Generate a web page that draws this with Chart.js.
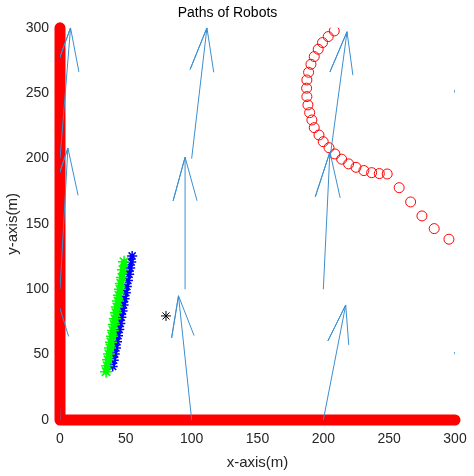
<!DOCTYPE html>
<html>
<head>
<meta charset="utf-8">
<script src="https://cdn.jsdelivr.net/npm/chart.js@4/dist/chart.umd.min.js"></script>
<style>
  body { margin: 0; background: #fff; }
  #wrap { width: 474px; height: 476px; }
</style>
</head>
<body>
<div id="wrap"><canvas id="robots"></canvas></div>
<script>
const xTicks = [0, 50, 100, 150, 200, 250, 300];
const yTicks = [0, 50, 100, 150, 200, 250, 300];

// red boundary robot path (along axes)
const borderX = [300, 0, 0];
const borderY = [0, 0, 300];

// red circle robot
const circleX = [208.3, 203.7, 199.4, 196.1, 193.1, 190.6, 188.8, 187.5, 187.3, 187.5, 188.3, 189.6, 191.3, 193.1, 196.7, 199.9, 204.3, 208.8, 213.9, 219.2, 224.8, 230.8, 236.7, 242.5, 248.5, 257.6, 266.3, 274.9, 284.2, 295.4];
const circleY = [297.6, 293.3, 288.7, 283.6, 278, 272.1, 266, 260.1, 253.8, 247.4, 241, 235.1, 229.5, 223.6, 218, 212.9, 208.3, 203.5, 199.5, 195.9, 193.3, 190.8, 189.2, 188.5, 188.2, 177.7, 166.8, 156.1, 146.4, 138.3];

// green and blue star robots
const greenX = [35, 35.8, 36.5, 37.2, 38, 38.7, 39.5, 40.2, 41, 41.7, 42.5, 43.2, 44, 44.7, 45.5, 46.2, 47, 47.8, 48.6];
const greenY = [37, 41.5, 46, 50.5, 55, 59.5, 64, 68.5, 73, 77.5, 82, 86.5, 91, 95.5, 100, 104.5, 109, 115, 121];
const blueX = [40, 40.8, 41.6, 42.5, 43.3, 44.1, 45, 45.8, 46.6, 47.5, 48.3, 49.1, 50, 50.8, 51.6, 52.5, 53.3, 54.1, 54.8];
const blueY = [41, 45.7, 50.4, 55.1, 59.8, 64.5, 69.2, 73.9, 78.6, 83.3, 88, 92.7, 97.4, 102.1, 106.8, 111.5, 116.2, 120.9, 125.5];

// black target
const targetX = [80.5];
const targetY = [79.6];

// field arrows: base -> tip
const arrowBaseX = [0, 0, 0, 100, 95, 100, 200, 200, 205, 300, 300];
const arrowBaseY = [0, 100, 200, 0, 100, 200, 0, 100, 200, 50, 250];
const arrowTipX = [-3, 6, 8, 90, 95, 111.6, 217, 205, 218, 300, 300];
const arrowTipY = [95, 208, 300, 95, 201, 300, 88, 205, 297, 52, 252];

function pts(xs, ys) { return xs.map((x, i) => ({ x: x, y: ys[i] })); }

function arrowPoints() {
  const out = [];
  for (let i = 0; i < arrowBaseX.length; i++) {
    const bx = arrowBaseX[i], by = arrowBaseY[i], tx = arrowTipX[i], ty = arrowTipY[i];
    const dx = tx - bx, dy = ty - by;
    const len = Math.hypot(dx, dy);
    const ux = dx / len, uy = dy / len;
    const h = len * 0.33, w = len * 0.09;
    out.push({ x: bx, y: by }, { x: tx, y: ty });
    out.push({ x: tx - ux * h - uy * w, y: ty - uy * h + ux * w }, { x: tx, y: ty });
    out.push({ x: tx - ux * h + uy * w, y: ty - uy * h - ux * w });
    out.push({ x: null, y: null });
  }
  return out;
}

Chart.defaults.font.family = 'Arial, "Liberation Sans", sans-serif';
Chart.defaults.color = '#262626';

new Chart(document.getElementById('robots'), {
  type: 'scatter',
  data: {
    datasets: [
      { data: arrowPoints(), showLine: true, spanGaps: false, borderColor: '#3b8fd0', borderWidth: 1, pointRadius: 0 },
      { data: pts(borderX, borderY), showLine: true, clip: 10, borderColor: '#ff0000', borderWidth: 11, pointRadius: 0, borderCapStyle: 'round', borderJoinStyle: 'round' },
      { data: pts(greenX, greenY), showLine: true, borderColor: '#00ff00', borderWidth: 6, pointStyle: 'star', pointRadius: 6, pointBorderWidth: 1.5, pointBorderColor: '#00ff00', borderCapStyle: 'round' },
      { data: pts(blueX, blueY), showLine: true, borderColor: '#0000ff', borderWidth: 4, pointStyle: 'star', pointRadius: 5, pointBorderWidth: 1.5, pointBorderColor: '#0000ff', borderCapStyle: 'round' },
      { data: pts(circleX, circleY), pointStyle: 'circle', pointRadius: 5, borderColor: '#ff0000', backgroundColor: 'rgba(0,0,0,0)', borderWidth: 1 },
      { data: pts(targetX, targetY), pointStyle: 'star', pointRadius: 5, borderColor: '#000', borderWidth: 1 }
    ]
  },
  options: {
    responsive: true,
    maintainAspectRatio: false,
    animation: false,
    layout: { padding: { right: 19 } },
    plugins: {
      legend: { display: false },
      tooltip: { enabled: false },
      title: { display: true, text: 'Paths of Robots', color: '#000', font: { size: 14, weight: 'normal' }, padding: { top: 5, bottom: 6 } }
    },
    scales: {
      x: {
        type: 'linear', min: 0, max: 300,
        grid: { display: false },
        border: { color: '#262626' },
        afterBuildTicks: s => { s.ticks = xTicks.map(v => ({ value: v })); },
        ticks: { font: { size: 14 }, maxRotation: 0 },
        title: { display: true, text: 'x-axis(m)', font: { size: 15 }, padding: { top: 2 } },
        afterFit: s => { s.height = 56; }
      },
      y: {
        type: 'linear', min: 0, max: 300,
        grid: { display: false },
        border: { color: '#262626' },
        afterBuildTicks: s => { s.ticks = yTicks.map(v => ({ value: v })); },
        ticks: { font: { size: 14 } },
        title: { display: true, text: 'y-axis(m)', font: { size: 15 } },
        afterFit: s => { s.width = 60; }
      }
    }
  }
});
</script>
</body>
</html>
